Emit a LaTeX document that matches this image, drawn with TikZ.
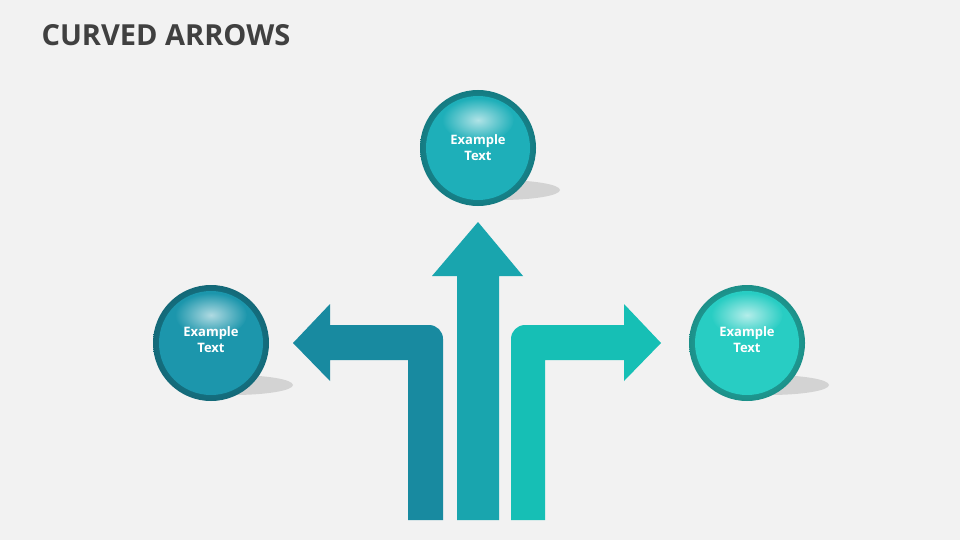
\documentclass[tikz,border=0pt]{standalone}
\usepackage{fontspec}
\setmainfont{Open Sans}
\definecolor{sA}{RGB}{30,175,185}
\definecolor{sB}{RGB}{28,150,172}
\definecolor{sC}{RGB}{40,205,195}
\begin{document}
\begin{tikzpicture}[x=1pt,y=-1pt,
  lbl/.style={text=white,font=\bfseries\fontsize{13}{16}\selectfont,align=center}]
\fill[gray!10!white] (0,0) rectangle (960,540);
\useasboundingbox (0,0) rectangle (960,540);
\node[anchor=west,text=black!75,font=\bfseries\fontsize{29}{32}\selectfont] (title) at (38,35) {CURVED ARROWS};
% arrows
\fill[color={rgb,255:red,24;green,138;blue,160}] (408,520) -- (408,360) -- (330,360) -- (330,381) -- (293,343) -- (330,304) -- (330,325) [rounded corners=14] -- (443,325) [sharp corners] -- (443,520) -- cycle;
\fill[color={rgb,255:red,25;green,165;blue,174}] (457,520) -- (457,276) -- (432,276) -- (478,222) -- (523,276) -- (499,276) -- (499,520) -- cycle;
\fill[color={rgb,255:red,22;green,191;blue,181}] (545,520) -- (545,360) -- (624,360) -- (624,381) -- (661,343) -- (624,304) -- (624,325) [rounded corners=14] -- (511,325) [sharp corners] -- (511,520) -- cycle;
% shadows
\foreach \x/\y in {478/148,211/343,747/343}{
  \fill[black!25,opacity=0.6] (\x+22,\y+42) ellipse [x radius=60,y radius=10];
}
\foreach \x/\y/\c in {478/148/sA,211/343/sB,747/343/sC}{
  \shade[inner color=\c,outer color=\c!70!black] (\x,\y) circle (58);
  \fill[color=\c] (\x,\y) circle (52);
  \shade[inner color=white!65!\c,outer color=\c] (\x,\y-28) ellipse [x radius=36,y radius=22];
}
\node[lbl] (t) at (478,148) {Example\\Text};
\node[lbl] (l) at (211,340) {Example\\Text};
\node[lbl] (r) at (747,340) {Example\\Text};
\end{tikzpicture}
\end{document}
